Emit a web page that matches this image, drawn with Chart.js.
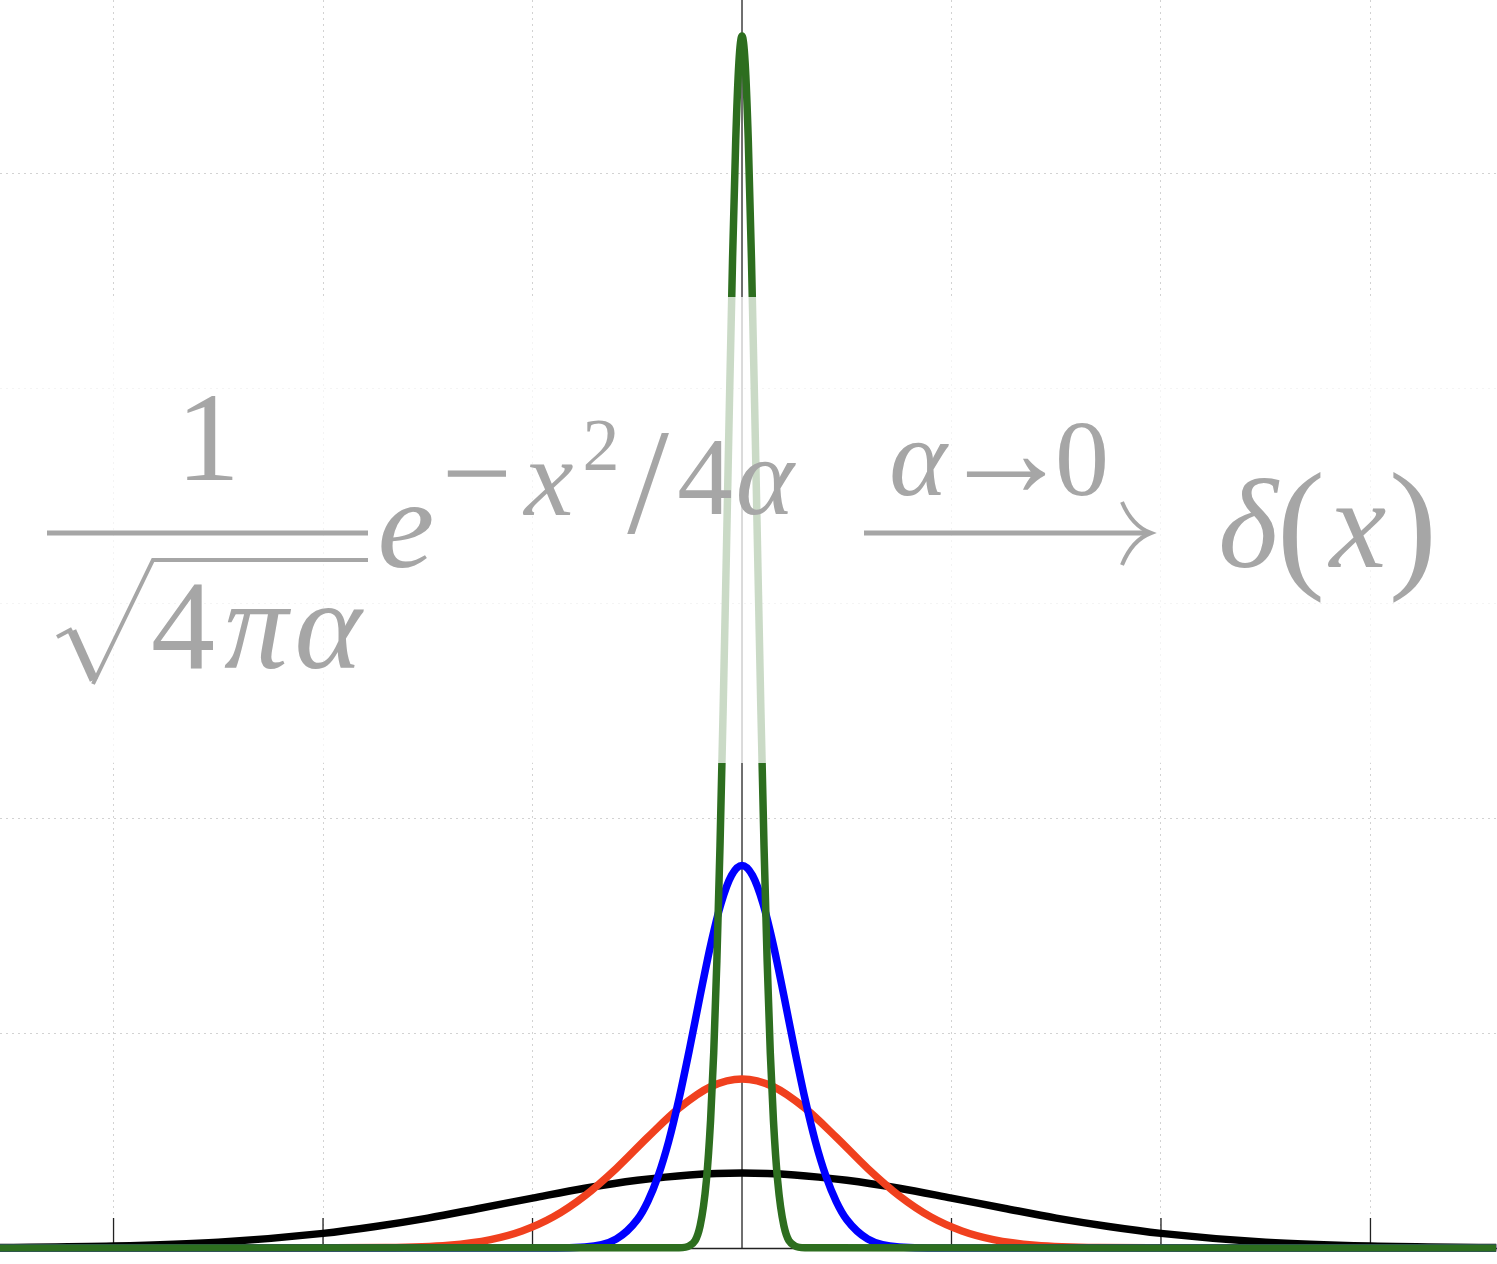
<!DOCTYPE html>
<html>
<head>
<meta charset="utf-8">
<title>Gaussian to delta</title>
<script src="https://cdn.jsdelivr.net/npm/chart.js@4.4.1/dist/chart.umd.min.js"></script>
<style>
  html, body { margin: 0; padding: 0; background: #fff; }
  #wrap { width: 1497px; height: 1264px; }
</style>
</head>
<body>
<div id="wrap"><canvas id="chart" width="1497" height="1264"></canvas></div>
<script>
// values (x and y in grid units)
const blackX = [-3.6, -3, -2.5, -2, -1.75, -1.5, -1.25, -1, -0.75, -0.5, -0.25, 0, 0.25, 0.5, 0.75, 1, 1.25, 1.5, 1.75, 2, 2.5, 3, 3.6];
const blackY = [0.002, 0.009, 0.027, 0.068, 0.100, 0.139, 0.185, 0.232, 0.278, 0.315, 0.340, 0.349, 0.340, 0.315, 0.278, 0.232, 0.185, 0.139, 0.100, 0.068, 0.027, 0.009, 0.002];

const redX = [-3.6, -2.2, -1.7, -1.4, -1.2, -1.05, -0.9, -0.75, -0.6, -0.45, -0.3, -0.15, 0, 0.15, 0.3, 0.45, 0.6, 0.75, 0.9, 1.05, 1.2, 1.4, 1.7, 2.2, 3.6];
const redY = [0, 0, 0.002, 0.013, 0.039, 0.079, 0.145, 0.243, 0.370, 0.515, 0.651, 0.750, 0.786, 0.750, 0.651, 0.515, 0.370, 0.243, 0.145, 0.079, 0.039, 0.013, 0.002, 0, 0];

const blueX = [-3.6, -1, -0.75, -0.6, -0.5, -0.45, -0.4, -0.35, -0.3, -0.25, -0.2, -0.15, -0.1, -0.05, 0, 0.05, 0.1, 0.15, 0.2, 0.25, 0.3, 0.35, 0.4, 0.45, 0.5, 0.6, 0.75, 1, 3.6];
const blueY = [0, 0, 0.005, 0.042, 0.132, 0.216, 0.336, 0.496, 0.697, 0.928, 1.173, 1.408, 1.603, 1.733, 1.779, 1.733, 1.603, 1.408, 1.173, 0.928, 0.697, 0.496, 0.336, 0.216, 0.132, 0.042, 0.005, 0, 0];

const greenX = [-3.6, -0.3, -0.25, -0.2, -0.17, -0.15, -0.135, -0.12, -0.105, -0.09, -0.075, -0.06, -0.045, -0.03, -0.015, 0, 0.015, 0.03, 0.045, 0.06, 0.075, 0.09, 0.105, 0.12, 0.135, 0.15, 0.17, 0.2, 0.25, 0.3, 3.6];
const greenY = [0, 0.001, 0.011, 0.103, 0.314, 0.594, 0.909, 1.335, 1.871, 2.507, 3.212, 3.932, 4.604, 5.152, 5.512, 5.637, 5.512, 5.152, 4.604, 3.932, 3.212, 2.507, 1.871, 1.335, 0.909, 0.594, 0.314, 0.103, 0.011, 0.001, 0];

const xTicks = [-3, -2, -1, 0, 1, 2, 3];
const yTicks = [1, 2, 3, 4, 5];

const toPoints = (xs, ys) => xs.map((x, i) => ({ x: x, y: ys[i] }));

// lower order is painted on top
const curve = (data, color, order) => ({
  data: data,
  order: order,
  showLine: true,
  borderColor: color,
  borderWidth: 7.5,
  pointRadius: 0,
  cubicInterpolationMode: 'monotone',
  clip: false
});

const TEXT_GREY = '#a6a6a6';
const SERIF = '"Liberation Serif"';

// formula pieces: text, centre x, baseline y, font size, italic
const glyphs = [
  ['1', 208, 480, 128, false],
  ['4', 183, 668, 128, false],
  ['\u03c0', 256, 668, 128, true],
  ['\u03b1', 328, 668, 128, true],
  ['e', 406, 567, 128, true],
  ['\u2212', 477, 515, 125, false],
  ['x', 549, 515, 111, true],
  ['2', 601, 470, 74, false],
  ['/', 648, 533, 150, false],
  ['4', 705, 514, 111, false],
  ['\u03b1', 765, 514, 111, true],
  ['\u03b1', 918, 495, 110, true],
  ['\u2192', 1006, 496, 132, false],
  ['0', 1082, 495, 108, false],
  ['\u03b4', 1248, 567, 128, true],
  ['(', 1301, 572, 145, false],
  ['x', 1358, 567, 128, true],
  [')', 1413, 572, 145, false]
];

const fontFor = g => (g[4] ? 'italic ' : '') + g[3] + 'px ' + SERIF;

const overlay = {
  id: 'overlay',
  beforeDatasetsDraw(chart) {
    const ctx = chart.ctx;
    const area = chart.chartArea;
    const xs = chart.scales.x;
    const x0 = xs.getPixelForValue(0);
    ctx.save();
    ctx.strokeStyle = '#222';
    ctx.lineWidth = 1.3;
    ctx.beginPath();
    ctx.moveTo(x0, area.top);
    ctx.lineTo(x0, area.bottom);
    ctx.moveTo(area.left, area.bottom + 0.5);
    ctx.lineTo(area.right, area.bottom + 0.5);
    xTicks.forEach(v => {
      if (v === 0) return;
      const px = xs.getPixelForValue(v);
      ctx.moveTo(px, area.bottom);
      ctx.lineTo(px, area.bottom - 30);
    });
    ctx.stroke();
    ctx.restore();
  },
  afterDatasetsDraw(chart) {
    const ctx = chart.ctx;
    const area = chart.chartArea;
    ctx.save();
    // translucent band behind the formula
    ctx.fillStyle = 'rgba(255,255,255,0.75)';
    ctx.fillRect(area.left, area.top + 297, area.right - area.left, 466);

    ctx.strokeStyle = TEXT_GREY;
    ctx.fillStyle = TEXT_GREY;
    ctx.lineWidth = 5;
    ctx.lineCap = 'butt';
    // fraction bar
    ctx.beginPath();
    ctx.moveTo(47, 533);
    ctx.lineTo(368, 533);
    ctx.stroke();
    // radical sign
    ctx.beginPath();
    ctx.lineWidth = 4;
    ctx.moveTo(57, 637);
    ctx.lineTo(72, 629);
    ctx.stroke();
    ctx.beginPath();
    ctx.lineWidth = 9;
    ctx.moveTo(72, 631);
    ctx.lineTo(94, 680);
    ctx.stroke();
    ctx.beginPath();
    ctx.lineWidth = 4;
    ctx.moveTo(93, 684);
    ctx.lineTo(153, 560);
    ctx.lineTo(368, 560);
    ctx.stroke();
    // long arrow
    ctx.beginPath();
    ctx.lineWidth = 5;
    ctx.moveTo(864, 533);
    ctx.lineTo(1148, 533);
    ctx.stroke();
    ctx.beginPath();
    ctx.lineWidth = 4;
    ctx.moveTo(1122, 502);
    ctx.quadraticCurveTo(1132, 526, 1151, 533);
    ctx.quadraticCurveTo(1132, 540, 1122, 565);
    ctx.stroke();

    ctx.textAlign = 'center';
    ctx.textBaseline = 'alphabetic';
    glyphs.forEach(g => {
      ctx.font = fontFor(g);
      ctx.fillText(g[0], g[1], g[2]);
    });
    ctx.restore();
  }
};

const gridColor = ctx => (ctx.tick && ctx.tick.value === 0) ? 'rgba(0,0,0,0)' : '#d2d2d2';

function build() {
  return new Chart(document.getElementById('chart').getContext('2d'), {
    type: 'scatter',
    data: {
      datasets: [
        curve(toPoints(blackX, blackY), '#000000', 3),
        curve(toPoints(redX, redY), '#f0401e', 2),
        curve(toPoints(blueX, blueY), '#0000ff', 1),
        curve(toPoints(greenX, greenY), '#2d6e1f', 0)
      ]
    },
    options: {
      responsive: false,
      animation: false,
      layout: { padding: { left: 0, right: 0, top: 0, bottom: 16 } },
      plugins: { legend: { display: false }, tooltip: { enabled: false } },
      scales: {
        x: {
          type: 'linear',
          min: -3.542,
          max: 3.604,
          afterFit: s => { s.height = 0; },
          afterBuildTicks: s => { s.ticks = xTicks.map(v => ({ value: v })); },
          ticks: { display: false, stepSize: 1, includeBounds: false },
          grid: { color: gridColor, lineWidth: 1, drawTicks: false },
          border: { display: false, dash: [2, 4] }
        },
        y: {
          type: 'linear',
          min: 0,
          max: 5.805,
          afterFit: s => { s.width = 0; },
          afterBuildTicks: s => { s.ticks = yTicks.map(v => ({ value: v })); },
          ticks: { display: false, stepSize: 1, includeBounds: false },
          grid: { color: '#d2d2d2', lineWidth: 1, drawTicks: false },
          border: { display: false, dash: [2, 4] }
        }
      }
    },
    plugins: [overlay]
  });
}

// make sure the serif faces are ready before the formula is painted
const faces = ['128px ' + SERIF, 'italic 128px ' + SERIF];
const chart = build();
Promise.all(faces.map(f => document.fonts.load(f, '1x\u03b1\u03b4'))).then(() => chart.draw());
</script>
</body>
</html>
